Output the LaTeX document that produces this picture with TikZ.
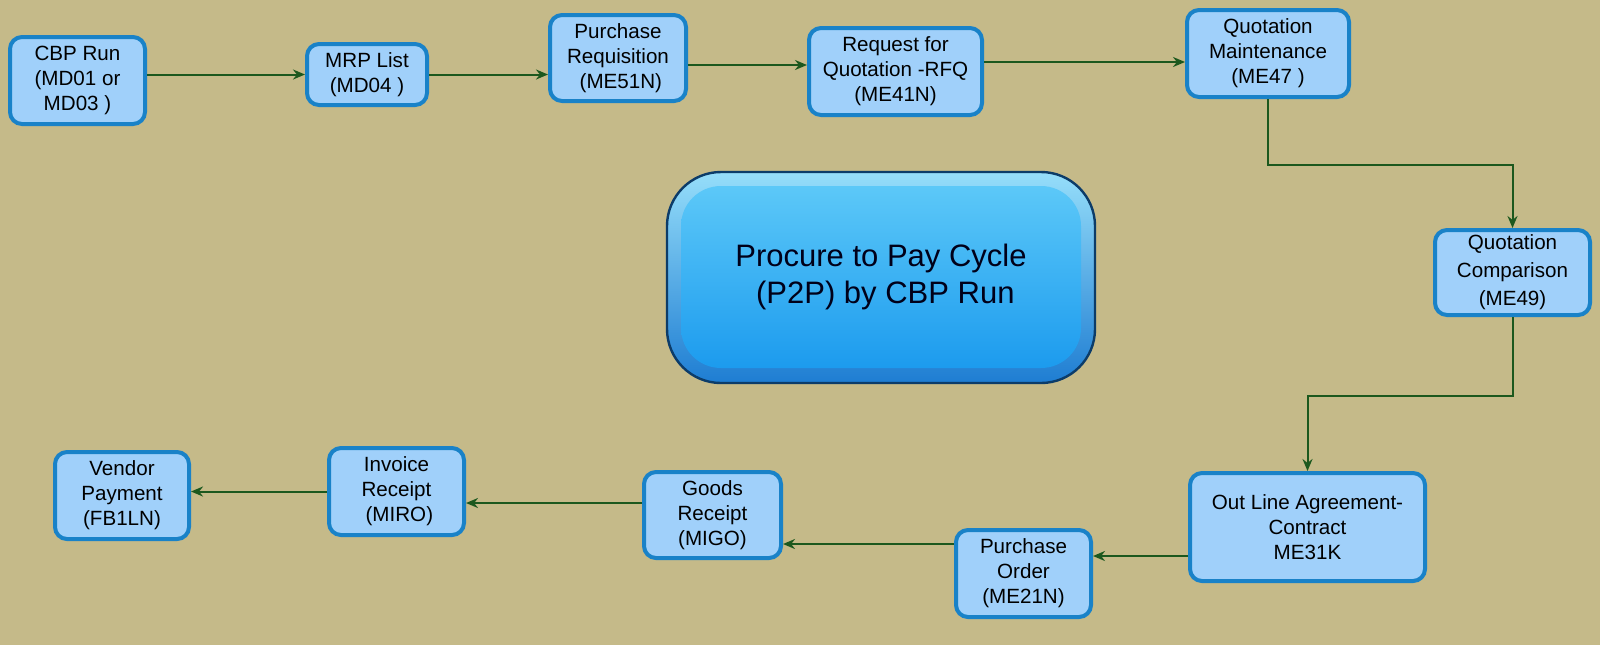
\documentclass[tikz,border=0pt]{standalone}
\usepackage{fontspec}
\setmainfont{Liberation Sans}
\usetikzlibrary{arrows.meta}

\definecolor{khaki}{RGB}{197,186,137}
\definecolor{stepfill}{RGB}{160,208,250}
\definecolor{stepedge}{RGB}{25,130,200}
\definecolor{flowgreen}{RGB}{28,88,30}
\definecolor{rimtop}{RGB}{150,222,250}
\definecolor{rimbot}{RGB}{30,125,210}
\definecolor{facetop}{RGB}{92,200,248}
\definecolor{facebot}{RGB}{28,155,238}
\definecolor{rimedge}{RGB}{12,60,105}

\begin{document}
\begin{tikzpicture}[x=0.5pt,y=-0.5pt,
    every node/.append style={align=center,font=\fontsize{10.3}{12.5}\selectfont},
    sapstep/.style={draw=stepedge,fill=stepfill,line width=2pt,rounded corners=6pt,inner sep=1pt},
    flow/.style={-{Stealth[length=6pt,width=5pt]},flowgreen,line width=1pt}]
    \useasboundingbox (0,0) rectangle (1600,645);
    \fill[khaki] (0,0) rectangle (1600,645);

    % top row
    \node[sapstep,minimum width=67.5pt,minimum height=43.5pt] (cbp) at (77.5,80.5) {CBP Run\\(MD01 or\\MD03 )};
    \node[sapstep,minimum width=60pt,minimum height=30.5pt] (mrp) at (367,74.5) {MRP List\\(MD04 )};
    \node[sapstep,minimum width=68pt,minimum height=43pt] (pr) at (618,58) {Purchase\\Requisition\\~(ME51N)};
    \node[sapstep,minimum width=86.5pt,minimum height=43.5pt] (rfq) at (895.5,71.5) {Request for\\Quotation -RFQ\\(ME41N)};
    \node[sapstep,minimum width=81pt,minimum height=43.5pt] (qm) at (1268,53.5) {Quotation\\Maintenance\\(ME47 )};
    \node[sapstep,minimum width=77.5pt,minimum height=42.5pt,font=\fontsize{10.3}{14}\selectfont] (qc) at (1512.5,272.5) {Quotation\\Comparison\\(ME49)};

    % bottom row
    \node[sapstep,minimum width=117.5pt,minimum height=54pt] (ola) at (1307.5,527) {Out Line Agreement-\\Contract\\ME31K};
    \node[sapstep,minimum width=67.5pt,minimum height=43.5pt] (po) at (1023.5,573.5) {Purchase\\Order\\(ME21N)};
    \node[sapstep,minimum width=68.5pt,minimum height=43pt] (gr) at (712.5,515) {Goods\\Receipt\\(MIGO)};
    \node[sapstep,minimum width=67.5pt,minimum height=43.5pt] (ir) at (396.5,491.5) {Invoice\\Receipt\\~(MIRO)};
    \node[sapstep,minimum width=67pt,minimum height=43.5pt] (vp) at (122,495.5) {Vendor\\Payment\\(FB1LN)};

    % centre title
    \node[draw=rimedge,line width=1.2pt,rounded corners=27pt,top color=rimtop,bottom color=rimbot,
        minimum width=214pt,minimum height=105.5pt] (p2pframe) at (881,277.5) {};
    \node[rounded corners=20pt,top color=facetop,bottom color=facebot,minimum width=200pt,minimum height=91pt,
        font=\fontsize{15.5}{18.5}\selectfont,text=black!90!blue] (p2p) at (881,277) {Procure to Pay Cycle\\~(P2P) by CBP Run};

    \path[flow]
        (cbp.east |- mrp.west) edge (mrp.west)
        (mrp.east) edge (mrp.east -| pr.west)
        ([yshift=-3.5pt]pr.east) edge ([yshift=-3.5pt]pr.east -| rfq.west)
        ([yshift=4.75pt]rfq.east) edge ([yshift=4.75pt]rfq.east -| qm.west)
        ([yshift=-14.5pt]ola.west) edge ([yshift=-14.5pt]ola.west -| po.east)
        ([yshift=14.75pt]po.west) edge ([yshift=14.75pt]po.west -| gr.east)
        ([yshift=6pt]gr.west) edge ([yshift=6pt]gr.west -| ir.east)
        (ir.west) edge (ir.west -| vp.east);
    \draw[flow] (qm.south) -- ++(0,66) -| (qc.north);
    \draw[flow] (qc.south) -- ++(0,79) -| (ola.north);
\end{tikzpicture}
\end{document}
